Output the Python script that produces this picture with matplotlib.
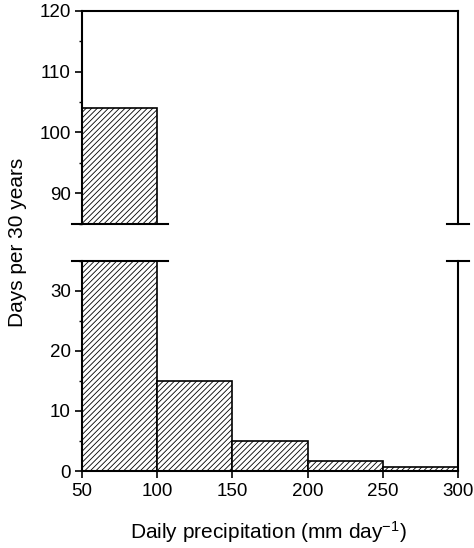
import matplotlib
matplotlib.use("Agg")
import matplotlib.pyplot as plt
from matplotlib.lines import Line2D
from matplotlib.ticker import MultipleLocator

# histogram of daily precipitation (days per 30 years)
bin_left = [50, 100, 150, 200, 250]
bin_width = 50
days = [104, 15, 5, 1.7, 0.7]

x_ticks = [50, 100, 150, 200, 250, 300]
top_ticks = [90, 100, 110, 120]
bot_ticks = [0, 10, 20, 30]

plt.rcParams["font.family"] = ["Liberation Sans", "DejaVu Sans"]
plt.rcParams["mathtext.default"] = "regular"
plt.rcParams["hatch.linewidth"] = 0.6

W, H = 474, 548
fig = plt.figure(figsize=(W / 100, H / 100), dpi=100)
left, right = 82 / W, 458 / W
ax_top = fig.add_axes([left, 1 - 223.5 / H, right - left, (223.5 - 10.7) / H])
ax_bot = fig.add_axes([left, 1 - 471 / H, right - left, (471 - 260.7) / H])

lw = 1.5
for ax in (ax_top, ax_bot):
    ax.bar(bin_left, days, width=bin_width, align="edge", color="white",
           edgecolor="black", linewidth=1.2, hatch="//////")
    ax.set_xlim(50, 300)
    for s in ax.spines.values():
        s.set_linewidth(lw)
    ax.tick_params(axis="y", which="major", direction="out", length=5, width=1.2,
                   labelsize=13.5, pad=3)
    ax.tick_params(axis="y", which="minor", direction="out", length=2.5, width=1.0)
    ax.tick_params(axis="x", direction="out", length=5, width=1.2, labelsize=13.5, pad=4)

ax_top.set_ylim(85, 120)
ax_top.set_yticks(top_ticks)
ax_top.yaxis.set_minor_locator(MultipleLocator(5))
ax_top.spines["bottom"].set_visible(False)
ax_top.set_xticks([])

ax_bot.set_ylim(0, 35)
ax_bot.set_yticks(bot_ticks)
ax_bot.yaxis.set_minor_locator(MultipleLocator(5))
ax_bot.spines["top"].set_visible(False)
ax_bot.set_xticks(x_ticks)

# break marks
lx0, lx1 = (72 - 82) / 376, (168 - 82) / 376
rx0, rx1 = (447 - 82) / 376, (469 - 82) / 376
for ax, y in ((ax_top, 0), (ax_bot, 1)):
    ax.add_line(Line2D([lx0, lx1], [y, y], transform=ax.transAxes, color="black",
                       lw=lw, clip_on=False))
    ax.add_line(Line2D([rx0, rx1], [y, y], transform=ax.transAxes, color="black",
                       lw=lw, clip_on=False))

fig.text(18 / W, 1 - 242 / H, "Days per 30 years", rotation=90, fontsize=15,
         ha="center", va="center")
fig.text(268 / W, 1 - 532 / H, "Daily precipitation (mm day$^{-1}$)", fontsize=15,
         ha="center", va="center")

fig.savefig("out.png", dpi=100)
